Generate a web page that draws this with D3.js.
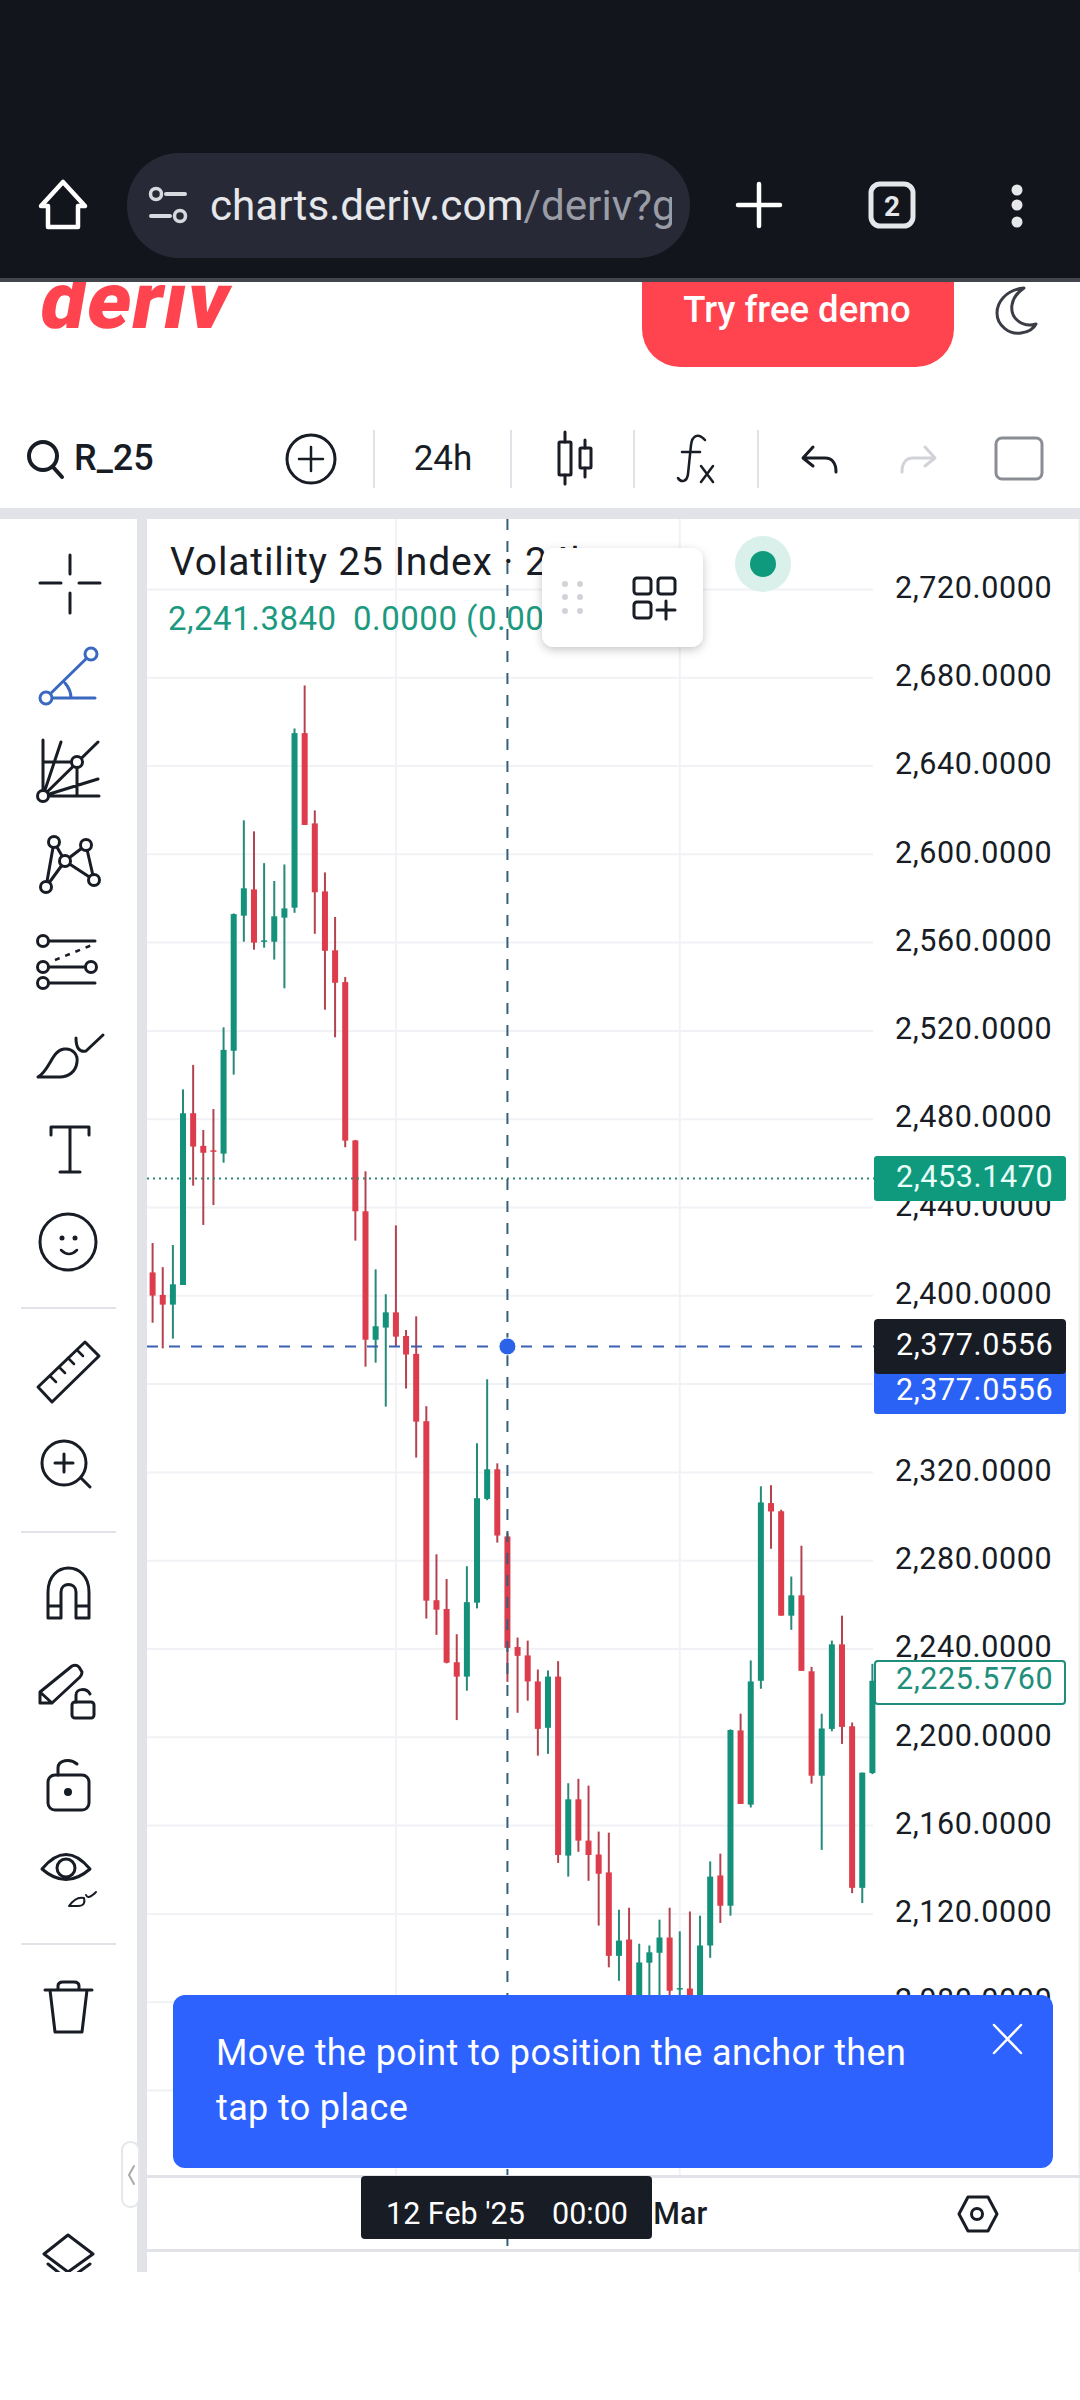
<!DOCTYPE html>
<html>
<head>
<meta charset="utf-8">
<script src="https://cdn.jsdelivr.net/npm/d3@7"></script>
<style>
  html, body { margin: 0; padding: 0; background: #fff; }
  svg { display: block; font-family: Roboto, sans-serif; }
</style>
</head>
<body>
<div id="graph"></div>
<script>
// candles (24h bars, 8 Jan to 20 Mar 2025)
var days = d3.utcDay.range(new Date(Date.UTC(2025, 0, 8)), new Date(Date.UTC(2025, 2, 21)));

var opens = [2410.6,2400.4,2396.0,2404.9,2482.7,2467.9,2465.9,2464.4,2511.0,2572.2,2584.1,2560.4,2560.4,2571.3,2575.8,2654.9,2614.0,2583.2,2556.5,2542.1,2470.4,2438.3,2380.1,2385.6,
  2392.5,2381.8,2373.7,2343.2,2262.1,2258.1,2234.0,2227.5,2261.0,2308.0,2321.4,2291.0,2240.9,2237.1,2225.3,2204.3,2227.5,2146.4,2171.9,2153.2,2146.9,2138.8,2101.0,2108.4,
  2070.0,2097.9,2102.4,2109.3,2086.1,2086.2,2076.0,2105.7,2137.4,2123.7,2203.1,2169.5,2225.6,2306.1,2302.4,2255.1,2264.3,2229.9,2182.6,2203.8,2242.1,2205.0,2131.8,2183.8];
var closes = [2400.1,2396.0,2405.2,2482.7,2467.6,2464.8,2465.3,2511.4,2572.9,2584.6,2560.0,2561.0,2571.9,2575.5,2654.9,2613.3,2582.8,2556.3,2541.8,2470.3,2438.3,2380.1,2386.2,2392.5,
  2381.5,2373.4,2343.0,2261.9,2257.8,2233.8,2227.5,2261.2,2308.3,2321.4,2291.4,2240.5,2236.9,2225.3,2203.8,2227.5,2146.7,2171.9,2153.2,2146.7,2138.2,2101.0,2107.9,2067.4,
  2098.0,2102.6,2109.3,2085.2,2086.4,2076.0,2105.7,2136.9,2123.7,2203.3,2169.8,2225.3,2306.4,2302.3,2255.1,2264.3,2230.1,2182.6,2204.0,2242.1,2204.7,2131.8,2184.0,2225.6];
var highs = [2423.9,2413.0,2423.0,2493.5,2504.6,2475.1,2484.6,2521.6,2573.2,2615.4,2610.4,2596.0,2587.9,2595.4,2657.0,2676.5,2619.9,2591.8,2571.6,2544.4,2470.6,2456.4,2412.0,2400.7,
  2431.9,2384.5,2390.7,2350.0,2282.9,2271.7,2246.7,2277.5,2333.2,2362.2,2324.1,2292.6,2245.2,2243.8,2230.7,2230.3,2234.5,2179.2,2181.2,2178.1,2157.3,2156.8,2121.9,2122.8,
  2106.5,2105.7,2117.4,2122.8,2112.1,2121.1,2119.2,2143.8,2147.3,2203.6,2210.7,2234.8,2313.7,2314.2,2303.1,2272.8,2286.8,2231.9,2210.7,2243.8,2255.1,2206.7,2184.0,2233.3];
var lows = [2387.8,2376.2,2380.6,2404.9,2449.9,2432.1,2441.1,2460.3,2500.2,2560.4,2556.8,2557.7,2552.3,2539.3,2573.5,2613.3,2564.0,2529.6,2517.1,2467.3,2425.0,2367.9,2369.7,2349.8,
  2377.0,2358.0,2326.7,2253.8,2246.4,2233.5,2207.8,2221.1,2258.4,2307.4,2288.2,2225.1,2211.1,2216.6,2191.7,2192.5,2143.1,2136.9,2148.1,2135.0,2114.7,2095.8,2089.7,2055.0,
  2062.0,2075.0,2078.0,2075.0,2070.0,2068.0,2068.0,2100.1,2115.9,2119.2,2169.8,2168.2,2222.0,2285.4,2255.1,2248.7,2230.1,2179.0,2149.0,2202.7,2197.0,2129.4,2124.9,2183.3];

var priceTicks = [2720,2680,2640,2600,2560,2520,2480,2440,2400,2360,2320,2280,2240,2200,2160,2120,2080,2040];
var monthTicks = [new Date(Date.UTC(2025, 1, 1)), new Date(Date.UTC(2025, 2, 1))];

var lastPrice = 2225.5760;
var markerPrice = 2453.1470;
var anchorPrice = 2377.0556;
var anchorDay = new Date(Date.UTC(2025, 1, 12));

var Green = '#14917a', Red = '#dd3c4c', Ink = '#181c25', Rule = '#e2e3e9', Grid = '#f1f2f5';

var x = d3.scaleUtc().domain([days[0], days[days.length - 1]]).range([152.6, 872.4]);
var y = d3.scaleLinear().domain([2680, 2240]).range([677.7, 1649]);

var svg = d3.select('#graph').append('svg')
  .attr('width', 1080).attr('height', 2400).attr('viewBox', '0 0 1080 2400');

// helpers for the ui chrome
function rect(g, a, b, w, h, fill, r) {
  return g.append('rect').attr('x', a).attr('y', b).attr('width', w).attr('height', h).attr('fill', fill).attr('rx', r || 0);
}
function label(g, a, b, str, size, fill, weight) {
  return g.append('text').attr('x', a).attr('y', b).text(str)
    .style('font-size', size + 'px').style('fill', fill).style('font-weight', weight || 400);
}
function stroke(g, d, color, w) {
  return g.append('path').attr('d', d).attr('fill', 'none').attr('stroke', color || Ink)
    .attr('stroke-width', w || 3).attr('stroke-linecap', 'round').attr('stroke-linejoin', 'round');
}
function dot(g, a, b, r, color, w) {
  return g.append('circle').attr('cx', a).attr('cy', b).attr('r', r).attr('fill', '#fff')
    .attr('stroke', color || Ink).attr('stroke-width', w || 3);
}

// page panels
rect(svg, 0, 508, 1080, 11, Rule);
rect(svg, 137, 519, 10, 1753, Rule);
rect(svg, 1078.5, 519, 1.5, 1753, '#ecedf0');

// grid
var chart = svg.append('g');
chart.selectAll('.hgrid').data(priceTicks).join('line').attr('class', 'hgrid')
  .attr('x1', 147).attr('x2', 873).attr('y1', d => y(d)).attr('y2', d => y(d))
  .attr('stroke', Grid).attr('stroke-width', 2);
chart.selectAll('.vgrid').data(monthTicks).join('line').attr('class', 'vgrid')
  .attr('x1', d => x(d)).attr('x2', d => x(d)).attr('y1', 519).attr('y2', 2177)
  .attr('stroke', Grid).attr('stroke-width', 2);

// candles
var candle = chart.selectAll('.candle').data(days).join('g').attr('class', 'candle');
candle.append('line')
  .attr('x1', d => x(d)).attr('x2', d => x(d))
  .attr('y1', (d, i) => y(highs[i])).attr('y2', (d, i) => y(lows[i]))
  .attr('stroke', (d, i) => closes[i] >= opens[i] ? '#26897a' : '#b4434f')
  .attr('stroke-width', 2);
candle.append('rect')
  .attr('x', d => x(d) - 3).attr('width', 6)
  .attr('y', (d, i) => y(Math.max(opens[i], closes[i])))
  .attr('height', (d, i) => Math.max(1.5, Math.abs(y(opens[i]) - y(closes[i]))))
  .attr('fill', (d, i) => closes[i] >= opens[i] ? Green : Red);

// price lines
chart.append('line').attr('x1', 147).attr('x2', 874).attr('y1', y(markerPrice)).attr('y2', y(markerPrice))
  .attr('stroke', '#2a8a76').attr('stroke-width', 2).attr('stroke-dasharray', '2 4');
chart.append('line').attr('x1', x(anchorDay)).attr('x2', x(anchorDay)).attr('y1', 519).attr('y2', 2250)
  .attr('stroke', '#33607c').attr('stroke-width', 2).attr('stroke-dasharray', '11 11');
chart.append('line').attr('x1', 147).attr('x2', 874).attr('y1', y(anchorPrice)).attr('y2', y(anchorPrice))
  .attr('stroke', '#3a60b4').attr('stroke-width', 2).attr('stroke-dasharray', '11 11');
chart.append('circle').attr('cx', x(anchorDay)).attr('cy', y(anchorPrice)).attr('r', 8.5)
  .attr('fill', '#2a62e8').attr('stroke', '#fff').attr('stroke-width', 1);

// axes
var yAxis = svg.append('g').attr('transform', 'translate(874,-2)')
  .call(d3.axisRight(y).tickValues(priceTicks).tickFormat(d3.format(',.4f')).tickSize(0).tickPadding(21));
yAxis.select('.domain').remove();
yAxis.selectAll('text').style('font-family', 'Roboto').style('font-size', '30.5px').style('letter-spacing', '0.6px').style('fill', Ink);

var xAxis = svg.append('g').attr('transform', 'translate(0,2202)')
  .call(d3.axisBottom(x).tickValues(monthTicks).tickFormat(d3.utcFormat('%b')).tickSize(0).tickPadding(0));
xAxis.select('.domain').remove();
xAxis.selectAll('text').style('font-family', 'Roboto').style('font-size', '30.5px').style('font-weight', 500).style('fill', Ink);

rect(svg, 147, 2175, 933, 3, Rule);
rect(svg, 147, 2249, 933, 3, Rule);

// price tags
rect(svg, 874, 1156, 192, 45, '#0f9a7e', 3);
label(svg, 896, 1187, d3.format(',.4f')(markerPrice), 30.5, '#e8fff8').style('letter-spacing', '0.6px');
rect(svg, 874, 1370, 192, 44, '#2a62f5', 3);
label(svg, 896, 1400, d3.format(',.4f')(anchorPrice), 30.5, '#fff').style('letter-spacing', '0.6px');
rect(svg, 874, 1319, 192, 55, Ink, 4);
label(svg, 896, 1355, d3.format(',.4f')(anchorPrice), 30.5, '#fff').style('letter-spacing', '0.6px');
rect(svg, 875, 1661, 190, 43, '#fff', 3).attr('stroke', '#1f8f7b').attr('stroke-width', 2);
label(svg, 896, 1689, d3.format(',.4f')(lastPrice), 30.5, '#1f8f7b').style('letter-spacing', '0.6px');

// chart heading
label(svg, 170, 575, 'Volatility 25 Index · 24h', 39, Ink).style('letter-spacing', '0.85px');
label(svg, 168, 630, '2,241.3840', 33, '#1c9a80').style('letter-spacing', '0.5px');
label(svg, 353, 630, '0.0000 (0.00%)', 33, '#1c9a80').style('letter-spacing', '0.5px');
svg.append('circle').attr('cx', 763).attr('cy', 564).attr('r', 28).attr('fill', '#d9f0eb');
svg.append('circle').attr('cx', 763).attr('cy', 564).attr('r', 13).attr('fill', '#0f9a7e');

// floating widget
svg.append('defs').append('filter').attr('id', 'lift').attr('x', '-20%').attr('y', '-20%').attr('width', '140%').attr('height', '150%')
  .append('feDropShadow').attr('dx', 0).attr('dy', 3).attr('stdDeviation', 5).attr('flood-color', '#000').attr('flood-opacity', 0.22);
rect(svg, 542, 548, 161, 99, '#fff', 12).attr('filter', 'url(#lift)');
[565, 580].forEach(a => [584, 597, 611].forEach(b => {
  svg.append('circle').attr('cx', a).attr('cy', b).attr('r', 3).attr('fill', '#d2d3d8');
}));
rect(svg, 634, 578, 17, 16, 'none', 3).attr('stroke', Ink).attr('stroke-width', 3);
rect(svg, 658, 578, 17, 16, 'none', 3).attr('stroke', Ink).attr('stroke-width', 3);
rect(svg, 634, 602, 17, 16, 'none', 3).attr('stroke', Ink).attr('stroke-width', 3);
stroke(svg, 'M657 610H675M666 601V619');

// blue hint banner
rect(svg, 173, 1995, 880, 173, '#2d62ff', 12);
label(svg, 216, 2065, 'Move the point to position the anchor then', 36, '#fff').style('letter-spacing', '0.35px');
label(svg, 216, 2120, 'tap to place', 36, '#fff').style('letter-spacing', '0.35px');
stroke(svg, 'M994 2025L1021 2053M1021 2025L994 2053', '#fff', 2.5);

// time tag
rect(svg, 361, 2176, 291, 63, Ink, 4);
label(svg, 386, 2224, "12 Feb '25", 30.5, '#fff');
label(svg, 552, 2224, '00:00', 30.5, '#fff');
stroke(svg, 'M968 2197H988L997 2214L988 2231H968L959 2214Z', Ink, 3);
dot(svg, 977, 2214, 5.5, Ink, 3);

// browser bar
rect(svg, 0, 0, 1080, 278, '#13151c');
rect(svg, 0, 278, 1080, 4, '#43454c');
stroke(svg, 'M63 182L85 206H78V227H48V206H41Z', '#fff', 4.5);
rect(svg, 127, 153, 563, 105, '#272a36', 52);
stroke(svg, 'M166 194H185M151 216H170', '#d8d9de', 4);
dot(svg, 156, 194, 5.5, '#d8d9de', 3.5).attr('fill', 'none');
dot(svg, 180, 216, 5.5, '#d8d9de', 3.5).attr('fill', 'none');
svg.append('clipPath').attr('id', 'pill').append('rect').attr('x', 127).attr('y', 153).attr('width', 545).attr('height', 105);
var url = svg.append('text').attr('x', 210).attr('y', 220).attr('clip-path', 'url(#pill)').style('font-size', '42.2px');
url.append('tspan').text('charts.deriv.com').style('fill', '#e6e7ea');
url.append('tspan').text('/deriv?g').style('fill', '#9a9ca6');
stroke(svg, 'M738 205H780M759 184V226', '#fff', 4.5);
rect(svg, 871, 184, 42, 42, 'none', 9).attr('stroke', '#e6e7ea').attr('stroke-width', 5);
label(svg, 892, 216, '2', 28, '#e6e7ea', 700).attr('text-anchor', 'middle');
[190, 205, 222].forEach(b => {
  svg.append('circle').attr('cx', 1017).attr('cy', b).attr('r', 5.5).attr('fill', '#e6e7ea');
});

// site header, top is cut by the browser bar
svg.append('clipPath').attr('id', 'page').append('rect').attr('x', 0).attr('y', 282).attr('width', 1080).attr('height', 200);
var head = svg.append('g').attr('clip-path', 'url(#page)');
head.append('text').attr('transform', 'translate(37,328) skewX(-10)').text('deriv')
  .attr('textLength', 188).style('font-family', 'Roboto').style('font-weight', 900).style('font-size', '80px').style('fill', '#ff444f');
rect(head, 642, 240, 312, 127, '#ff444f', 38);
label(head, 797, 322, 'Try free demo', 36.5, '#fff', 500).attr('text-anchor', 'middle');
stroke(svg, 'M1024 288C1005 290 997 303 997 313C997 326 1010 335 1021 333C1029 332 1034 328 1036 324C1022 328 1010 318 1012 305C1013 298 1018 292 1024 288Z', '#3a3d45', 3);

// toolbar
svg.append('circle').attr('cx', 43).attr('cy', 456).attr('r', 14).attr('fill', 'none').attr('stroke', Ink).attr('stroke-width', 4);
stroke(svg, 'M53 467L62 477', Ink, 4);
label(svg, 74, 470, 'R_25', 36, Ink, 500);
dot(svg, 311, 459, 24);
stroke(svg, 'M299 459H323M311 447V471', Ink, 2.5);
[374, 511, 634, 758].forEach(a => rect(svg, a - 1, 430, 2, 58, Rule));
label(svg, 443, 470, '24h', 35, Ink).attr('text-anchor', 'middle');
stroke(svg, 'M565 432V442M565 475V484M585 440V448M585 468V477');
rect(svg, 559, 442, 12, 33, 'none', 1).attr('stroke', Ink).attr('stroke-width', 3);
rect(svg, 580, 448, 11, 20, 'none', 1).attr('stroke', Ink).attr('stroke-width', 3);
stroke(svg, 'M705 440C698 432 692 436 691 445L688 474C687 482 681 483 678 478M682 452H700', Ink, 2.5);
stroke(svg, 'M701 466L713 482M713 466L701 482', Ink, 2.5);
stroke(svg, 'M813 447L803 458L813 466M804 458H825C832 458 836 463 836 472', Ink, 3);
stroke(svg, 'M925 447L935 458L925 466M934 458H913C906 458 902 463 902 472', '#d2d3d8', 3);
rect(svg, 996, 438, 46, 41, '#fff', 6).attr('stroke', '#8b8d94').attr('stroke-width', 3);

// left tool rail
var rail = svg.append('g');
stroke(rail, 'M40 583H61M79 583H100M70 555V574M70 593V613');
var Blue = '#3a68c0';
stroke(rail, 'M46 698L91 654M46 698H95M65 683Q71 690 71 698', Blue);
dot(rail, 46, 698, 6, Blue); dot(rail, 91, 654, 6, Blue);
stroke(rail, 'M43 740V796M43 796L61 742M43 796L98 742M43 796L98 779M43 796H99M43 762H77M77 762V796');
dot(rail, 43, 796, 5.5); dot(rail, 77, 762, 5.5);
stroke(rail, 'M46 887L54 842L65 861L46 887M65 861L86 845L94 880L65 861');
[[54, 842], [86, 845], [65, 861], [94, 880], [46, 887]].forEach(p => dot(rail, p[0], p[1], 5.5));
stroke(rail, 'M43 941H95M43 967H91M43 983H95');
rail.append('path').attr('d', 'M55 960L92 945').attr('stroke', Ink).attr('stroke-width', 2.5).attr('stroke-dasharray', '5 6');
[[43, 941], [43, 967], [91, 967], [43, 983]].forEach(p => dot(rail, p[0], p[1], 5.5));
stroke(rail, 'M38 1077C50 1070 52 1050 64 1049C74 1048 78 1056 77 1062C76 1072 68 1077 60 1077Z');
stroke(rail, 'M76 1038Q76 1053 86 1051L103 1035');
stroke(rail, 'M51 1135V1127H89V1135M70 1127V1172M60 1172H80');
dot(rail, 68, 1242, 28);
rail.append('circle').attr('cx', 62).attr('cy', 1238).attr('r', 2.5).attr('fill', Ink);
rail.append('circle').attr('cx', 75).attr('cy', 1238).attr('r', 2.5).attr('fill', Ink);
stroke(rail, 'M61 1250Q69 1258 77 1250', Ink, 2.5);
[1307, 1531, 1943].forEach(b => rect(rail, 21, b, 95, 2, Rule));
stroke(rail, 'M38 1387L85 1342L99 1356L52 1402Z');
stroke(rail, 'M50 1376L56 1382M59 1367L65 1373M68 1358L74 1364M77 1350L83 1356', Ink, 2.5);
dot(rail, 64, 1463, 22);
stroke(rail, 'M55 1463H73M64 1454V1472M81 1478L90 1487', Ink, 3);
stroke(rail, 'M48 1618V1592C48 1560 89 1560 89 1592V1618H76V1592C76 1582 61 1582 61 1592V1618ZM48 1606H61M76 1606H89');
stroke(rail, 'M40 1703V1692L72 1666Q76 1664 79 1667L82 1672Q82 1675 80 1677L52 1703ZM40 1692L52 1703');
rect(rail, 72, 1702, 22, 16, 'none', 3).attr('stroke', Ink).attr('stroke-width', 3);
stroke(rail, 'M76 1702V1695C76 1688 87 1688 90 1694');
rect(rail, 48, 1775, 41, 35, 'none', 7).attr('stroke', Ink).attr('stroke-width', 3);
stroke(rail, 'M58 1775V1768C58 1760 70 1758 77 1764');
rail.append('circle').attr('cx', 68).attr('cy', 1792).attr('r', 4).attr('fill', Ink);
stroke(rail, 'M42 1869Q66 1840 90 1869Q66 1890 42 1869Z');
rail.append('circle').attr('cx', 66).attr('cy', 1868).attr('r', 9).attr('fill', 'none').attr('stroke', Ink).attr('stroke-width', 3);
stroke(rail, 'M69 1906Q76 1896 84 1898Q86 1906 78 1906ZM86 1895Q88 1900 96 1892', Ink, 2);
stroke(rail, 'M45 1990H92M50 1990L55 2032H82L87 1990M58 1990V1986Q58 1982 63 1982H74Q79 1982 79 1986V1990');

// collapse tab and layers icon, cut at the bottom of the page
rect(svg, 122, 2142, 17, 65, '#fff', 8).attr('stroke', '#e6e7ea').attr('stroke-width', 2);
stroke(svg, 'M134 2166L129 2175L134 2184', '#aaaaad', 2);
svg.append('clipPath').attr('id', 'bottom').append('rect').attr('x', 0).attr('y', 2200).attr('width', 137).attr('height', 72);
var layers = svg.append('g').attr('clip-path', 'url(#bottom)');
stroke(layers, 'M68 2235L93 2254L68 2272L44 2254ZM48 2264L68 2280L90 2264');
</script>
</body>
</html>
